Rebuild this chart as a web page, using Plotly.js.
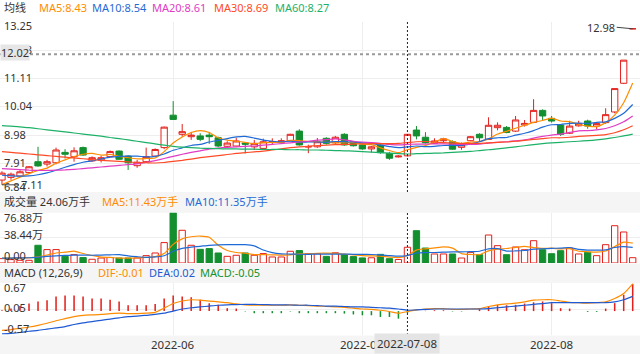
<!DOCTYPE html>
<html><head><meta charset="utf-8">
<script src="https://cdn.plot.ly/plotly-3.0.1.min.js"></script>
<style>html,body{margin:0;padding:0;background:#fff}#chart{width:640px;height:354px}</style>
</head><body><div id="chart"></div>
<script>
// ---------------- DATA ----------------
const dates = [
'2022-05-05','2022-05-06','2022-05-09','2022-05-10','2022-05-11','2022-05-12','2022-05-13','2022-05-16','2022-05-17','2022-05-18','2022-05-19','2022-05-20','2022-05-23','2022-05-24','2022-05-25','2022-05-26','2022-05-27','2022-05-30','2022-05-31',
'2022-06-01','2022-06-02','2022-06-06','2022-06-07','2022-06-08','2022-06-09','2022-06-10','2022-06-13','2022-06-14','2022-06-15','2022-06-16','2022-06-17','2022-06-20','2022-06-21','2022-06-22','2022-06-23','2022-06-24','2022-06-27','2022-06-28','2022-06-29','2022-06-30',
'2022-07-01','2022-07-04','2022-07-05','2022-07-06','2022-07-07','2022-07-08','2022-07-11','2022-07-12','2022-07-13','2022-07-14','2022-07-15','2022-07-18','2022-07-19','2022-07-20','2022-07-21','2022-07-22','2022-07-25','2022-07-26','2022-07-27','2022-07-28','2022-07-29',
'2022-08-01','2022-08-02','2022-08-03','2022-08-04','2022-08-05','2022-08-08','2022-08-09','2022-08-10','2022-08-11','2022-08-12'];

const open = [7.29,7.39,7.44,7.57,7.98,7.89,7.94,8.33,8.17,8.51,
8.01,8.04,8.17,8.38,8.19,7.83,7.98,8.19,8.51,9.73,
9.01,8.92,8.95,8.98,8.88,8.56,8.57,8.68,8.54,8.48,
8.72,8.71,8.77,9.13,8.53,8.54,8.86,8.69,9.01,8.73,
8.61,8.46,8.61,8.29,8.16,8.20,9.17,8.90,8.67,8.77,
8.73,8.52,8.77,9.01,8.82,9.26,9.27,9.13,9.36,9.46,
9.91,9.61,9.36,9.05,9.33,9.51,9.32,9.45,9.85,10.93,12.98];
const high = [7.62,7.57,7.66,7.82,8.54,8.05,8.51,8.45,8.52,8.55,
8.18,8.20,8.40,8.40,8.22,8.05,8.51,8.48,9.30,10.26,
9.40,9.10,9.05,9.10,8.92,8.75,8.88,8.72,8.80,8.85,
8.86,8.86,9.03,9.20,8.62,8.87,8.90,8.95,9.05,8.76,
8.63,8.57,8.64,8.35,8.22,9.01,9.32,9.09,8.86,8.88,
8.78,8.70,8.95,9.05,9.65,9.46,9.32,9.70,9.55,10.33,
9.95,9.70,9.40,9.52,9.52,9.56,9.46,9.99,10.73,11.80,12.98];
const low = [7.11,7.30,7.40,7.55,7.79,7.80,7.88,8.10,7.98,8.20,
7.98,7.95,8.15,8.05,7.67,7.75,7.95,8.15,8.45,9.55,
8.92,8.80,8.75,8.65,8.52,8.50,8.55,8.29,8.42,8.45,
8.63,8.69,8.75,8.58,8.30,8.50,8.62,8.64,8.58,8.55,
8.43,8.32,8.28,8.05,8.14,8.18,8.82,8.66,8.65,8.70,
8.43,8.43,8.75,8.76,8.80,9.16,9.05,9.10,9.30,9.43,
9.55,9.45,8.95,9.02,9.30,9.22,9.20,9.40,9.80,10.90,12.98];
const close = [7.55,7.51,7.60,7.79,7.82,7.98,8.42,8.26,8.39,8.23,
8.13,8.13,8.36,8.07,7.94,7.96,8.17,8.44,9.28,9.57,
9.11,8.98,8.82,8.92,8.57,8.68,8.76,8.64,8.67,8.73,
8.74,8.77,9.01,8.61,8.55,8.73,8.67,8.90,8.61,8.58,
8.46,8.54,8.32,8.11,8.19,9.01,8.95,8.69,8.76,8.84,
8.45,8.61,8.92,8.88,9.35,9.35,9.08,9.55,9.42,9.91,
9.70,9.51,9.01,9.32,9.42,9.32,9.42,9.75,10.73,11.80,12.98];

const ma5 = [7.12,7.26,7.40,7.53,7.65,7.74,7.92,8.05,8.17,8.26,
8.29,8.23,8.25,8.18,8.13,8.09,8.10,8.12,8.36,8.68,
8.91,9.08,9.15,9.08,8.88,8.79,8.75,8.71,8.66,8.70,
8.71,8.71,8.78,8.77,8.74,8.73,8.71,8.69,8.69,8.70,
8.64,8.62,8.50,8.40,8.32,8.43,8.52,8.59,8.72,8.85,
8.74,8.67,8.72,8.74,8.84,9.02,9.12,9.24,9.35,9.46,
9.53,9.62,9.51,9.49,9.39,9.32,9.30,9.45,9.73,10.20,10.94];
const ma10 = [7.47,7.45,7.44,7.45,7.49,7.56,7.66,7.77,7.87,7.96,
8.01,8.08,8.15,8.18,8.19,8.19,8.16,8.18,8.27,8.41,
8.50,8.59,8.63,8.72,8.78,8.85,8.91,8.93,8.87,8.79,
8.75,8.73,8.75,8.72,8.72,8.72,8.71,8.74,8.73,8.72,
8.69,8.67,8.60,8.55,8.51,8.54,8.57,8.55,8.56,8.59,
8.59,8.59,8.65,8.73,8.85,8.88,8.89,8.98,9.05,9.15,
9.28,9.37,9.38,9.42,9.43,9.42,9.46,9.48,9.61,9.80,10.13];
const ma20 = [7.72,7.70,7.68,7.66,7.65,7.65,7.66,7.67,7.69,7.72,
7.75,7.78,7.81,7.84,7.87,7.90,7.95,8.02,8.10,8.18,
8.26,8.33,8.39,8.45,8.49,8.52,8.54,8.56,8.57,8.60,
8.63,8.66,8.69,8.72,8.75,8.79,8.81,8.84,8.80,8.75,
8.72,8.70,8.67,8.63,8.61,8.63,8.64,8.64,8.65,8.65,
8.64,8.63,8.63,8.64,8.68,8.71,8.73,8.76,8.80,8.87,
8.93,8.98,9.02,9.08,9.14,9.15,9.18,9.23,9.33,9.48,9.70];
const ma30 = [8.36,8.33,8.30,8.27,8.24,8.21,8.18,8.15,8.12,8.09,
8.06,8.03,8.01,7.99,7.97,7.95,7.94,7.93,7.95,7.99,
8.03,8.08,8.13,8.17,8.21,8.25,8.29,8.32,8.35,8.38,
8.42,8.46,8.51,8.54,8.56,8.59,8.60,8.62,8.63,8.64,
8.65,8.66,8.66,8.66,8.67,8.70,8.73,8.74,8.72,8.70,
8.68,8.66,8.67,8.67,8.69,8.71,8.72,8.75,8.78,8.82,
8.85,8.88,8.88,8.90,8.93,8.95,8.97,9.00,9.07,9.18,9.33];
const ma60 = [9.34,9.32,9.29,9.26,9.22,9.18,9.14,9.10,9.06,9.02,
8.98,8.94,8.89,8.85,8.80,8.75,8.70,8.65,8.60,8.56,
8.53,8.51,8.49,8.48,8.47,8.46,8.46,8.45,8.45,8.44,
8.44,8.44,8.43,8.43,8.42,8.42,8.41,8.40,8.39,8.38,
8.36,8.34,8.32,8.30,8.28,8.27,8.28,8.29,8.30,8.31,
8.33,8.35,8.37,8.40,8.43,8.46,8.50,8.54,8.58,8.62,
8.66,8.69,8.71,8.73,8.75,8.77,8.80,8.84,8.89,8.95,9.02];

// volume in 万手
const volume = [6.7,5.2,4.1,4.1,27.1,20.5,20.5,10.2,12.8,8.3,
5.7,7.6,8.3,7.6,7.6,7.6,11.3,15.3,31.2,76.88,
50.0,27.1,20.9,22.0,15.3,10.2,11.8,15.3,11.8,14.4,
9.2,9.2,17.9,19.0,14.2,14.2,10.2,15.6,13.0,9.8,
7.75,8.0,13.2,6.6,5.3,24.06,49.4,22.9,13.8,13.8,
13.8,7.6,16.2,12.7,42.8,26.5,12.7,24.5,20.3,34.1,
20.3,14.2,18.8,22.9,13.8,16.2,11.2,28.0,57.0,47.4,8.1];
const volMa5 = [7.2,7.4,7.6,7.9,9.44,12.2,15.26,16.48,18.22,14.46,
11.5,8.92,8.54,7.5,7.36,7.74,8.48,9.88,14.6,28.46,
36.94,40.1,41.22,39.38,27.06,19.1,16.04,14.92,12.88,12.7,
12.5,11.98,12.5,13.94,13.9,14.9,15.1,14.64,13.44,12.56,
11.27,10.83,10.35,9.07,8.17,11.43,19.71,21.65,23.09,24.79,
22.74,14.38,13.04,12.82,18.62,21.16,22.18,23.84,25.36,23.62,
22.38,22.68,21.54,22.06,18.0,17.18,16.58,18.42,25.24,31.96,30.34];
const volMa10 = [7.5,7.6,7.8,8.0,9.0,10.0,11.0,11.6,12.0,11.95,
11.85,12.09,12.51,12.86,10.91,9.62,8.7,9.21,11.05,17.91,
22.34,24.29,25.55,26.99,27.76,28.02,28.07,28.07,26.13,19.88,
15.8,14.01,13.71,13.41,13.3,13.7,13.54,13.57,13.69,13.23,
13.09,12.97,12.5,11.26,10.37,11.35,15.27,16.0,16.08,16.48,
17.09,17.05,17.35,17.96,21.71,21.95,18.28,18.44,19.09,21.12,
21.77,22.43,22.69,23.71,20.81,19.78,19.63,19.98,23.65,24.98,23.76];

const dif = [-0.46,-0.44,-0.41,-0.38,-0.34,-0.29,-0.23,-0.18,-0.13,-0.10,
-0.09,-0.08,-0.06,-0.05,-0.06,-0.06,-0.05,-0.03,0.07,0.18,
0.24,0.27,0.26,0.24,0.22,0.20,0.17,0.15,0.14,0.14,
0.14,0.14,0.15,0.14,0.13,0.12,0.11,0.10,0.09,0.07,
0.05,0.04,0.02,-0.01,-0.05,-0.01,0.03,0.05,0.06,0.06,
0.04,0.04,0.05,0.06,0.11,0.15,0.17,0.19,0.22,0.26,
0.27,0.27,0.24,0.21,0.20,0.19,0.20,0.22,0.30,0.42,0.65];
const dea = [-0.54,-0.53,-0.51,-0.48,-0.46,-0.43,-0.40,-0.37,-0.32,-0.28,
-0.25,-0.22,-0.19,-0.16,-0.13,-0.12,-0.10,-0.08,-0.05,0.00,
0.05,0.08,0.10,0.12,0.14,0.15,0.155,0.16,0.16,0.155,
0.15,0.15,0.145,0.14,0.14,0.13,0.12,0.12,0.11,0.10,
0.10,0.09,0.08,0.07,0.05,0.02,0.03,0.04,0.05,0.05,
0.05,0.05,0.05,0.05,0.06,0.08,0.10,0.12,0.14,0.16,
0.18,0.20,0.20,0.20,0.20,0.20,0.20,0.20,0.22,0.27,0.35];
const macdHist = [0.02,0.06,0.12,0.18,0.23,0.26,0.35,0.37,0.37,0.35,
0.30,0.30,0.27,0.23,0.14,0.14,0.14,0.17,0.30,0.37,
0.35,0.33,0.27,0.19,0.15,0.07,0.06,-0.01,-0.05,-0.05,
-0.05,-0.05,-0.01,-0.05,-0.05,-0.05,-0.05,-0.05,-0.06,-0.08,
-0.10,-0.10,-0.14,-0.14,-0.18,-0.05,0.00,0.01,0.02,0.02,
-0.01,-0.01,0.00,0.06,0.10,0.15,0.14,0.15,0.18,0.21,
0.23,0.19,0.07,0.06,0.00,-0.02,-0.02,0.06,0.19,0.39,0.65];

// axis ticks / labels
const priceTicks = [6.84,7.91,8.98,10.04,11.11,12.18,13.25];
const priceTickText = ['6.84','7.91','8.98','10.04','11.11','12.18','13.25'];
const volTicks = [0,38.44,76.88];
const volTickText = ['0.00','38.44万','76.88万'];
const macdTicks = [-0.57,0.05,0.67];
const macdTickText = ['-0.57','0.05','0.67'];
const monthTicks = ['2022-06-01','2022-07-01','2022-08-01'];
const monthTickText = ['2022-06','2022-07','2022-08'];

// legend values at the crosshair
const maNames = ['MA5','MA10','MA20','MA30','MA60'];
const maLegendVals = [8.43,8.54,8.61,8.69,8.27];
const crossDate = '2022-07-08';
const crossPrice = 12.02;
const crossVolText = '24.06万手';
const volMaNames = ['MA5','MA10'];
const volMaLegendVals = [11.43,11.35];
const macdLegendNames = ['DIF','DEA','MACD'];
const macdLegendVals = [-0.01,0.02,-0.05];
const maxDate = '2022-08-12', maxHigh = 12.98;
const minDate = '2022-05-05', minLow = 7.11;

// ---------------- STYLE ----------------
const FONT = '"Noto Sans", "Noto Sans CJK SC", sans-serif';
const TXT = '#333333';
const RED = '#e3201b', GREEN = '#148f30';
const maColors = ['#ff8c00','#1f6bd6','#e03cc4','#ff4a26','#1db168'];
const volMaColors = ['#ff8c00','#1f6bd6'];
const macdColors = ['#ff8c00','#1f5ad2','#14922f'];
const GRID = '#eeeeee', BAND = '#f5f5f5';
const H = 354, W = 640;
const P = px => 1 - px / H;

const isUp = close.map((c, i) => c > open[i] || (c === open[i] && i > 0 && c > close[i - 1]));

// ---------------- TRACES ----------------
const traces = [];
[ma5, ma10, ma20, ma30, ma60].forEach((arr, k) => {
  traces.push({type:'scatter', mode:'lines', x:dates, y:arr, xaxis:'x', yaxis:'y',
    line:{color:maColors[k], width:1.2, shape:'spline', smoothing:0.6}, hoverinfo:'skip'});
});
traces.push({type:'candlestick', x:dates, open:open, high:high, low:low, close:close,
  xaxis:'x', yaxis:'y', whiskerwidth:0,
  increasing:{line:{color:RED, width:1}, fillcolor:'rgba(255,255,255,0)'},
  decreasing:{line:{color:GREEN, width:1}, fillcolor:GREEN}, hoverinfo:'skip'});

traces.push({type:'bar', x:dates, y:volume, xaxis:'x', yaxis:'y2', width:0.7,
  marker:{color:isUp.map(u => u ? 'rgba(255,255,255,0)' : GREEN),
          line:{color:isUp.map(u => u ? RED : GREEN), width:1}}, hoverinfo:'skip'});
[volMa5, volMa10].forEach((arr, k) => {
  traces.push({type:'scatter', mode:'lines', x:dates, y:arr, xaxis:'x', yaxis:'y2',
    line:{color:volMaColors[k], width:1.2, shape:'spline', smoothing:0.6}, hoverinfo:'skip'});
});

traces.push({type:'bar', x:dates, y:macdHist, xaxis:'x', yaxis:'y3', width:0.17,
  marker:{color:macdHist.map(v => v >= 0 ? RED : GREEN), line:{width:0}}, hoverinfo:'skip'});
traces.push({type:'scatter', mode:'lines', x:dates, y:dif, xaxis:'x', yaxis:'y3',
  line:{color:macdColors[0], width:1.2, shape:'spline', smoothing:0.6}, hoverinfo:'skip'});
traces.push({type:'scatter', mode:'lines', x:dates, y:dea, xaxis:'x', yaxis:'y3',
  line:{color:macdColors[1], width:1.2, shape:'spline', smoothing:0.6}, hoverinfo:'skip'});

// ---------------- ANNOTATIONS ----------------
const ann = [];
function txt(text, xpx, ypx, color, extra) {
  ann.push(Object.assign({text:text, x:xpx / W, y:P(ypx), xref:'paper', yref:'paper',
    xanchor:'left', yanchor:'middle', showarrow:false,
    font:{family:FONT, size:11, color:color}}, extra || {}));
}
// header rows
const topX = [2, 37, 90, 150, 212, 273];
txt('均线', topX[0], 7.5, TXT);
maNames.forEach((n, k) => txt(n + ':' + maLegendVals[k].toFixed(2), topX[k + 1], 7.5, maColors[k]));

const volX = [2, 100, 183];
txt('成交量 ' + crossVolText, volX[0], 201, TXT);
volMaNames.forEach((n, k) => txt(n + ':' + volMaLegendVals[k].toFixed(2) + '万手', volX[k + 1], 201, volMaColors[k]));

const macdX = [2, 96, 147, 198];
txt('MACD (12,26,9)', macdX[0], 272.5, TXT);
macdLegendNames.forEach((n, k) => txt(n + ':' + macdLegendVals[k].toFixed(2), macdX[k + 1], 272.5, macdColors[k]));

// y labels
function yLabels(ticks, texts, yref, shifts) {
  ticks.forEach((t, k) => ann.push({text:texts[k], x:2 / W, xref:'paper', xanchor:'left',
    y:t, yref:yref, yanchor:'middle', yshift:shifts[k], showarrow:false,
    font:{family:FONT, size:11, color:TXT}}));
}
yLabels(priceTicks, priceTickText, 'y', [5.5, 1, 1, 1, 1, 1, -4]);
yLabels(volTicks, volTickText, 'y2', [7.5, 3.5, -4.3]);
yLabels(macdTicks, macdTickText, 'y3', [7, 1.4, -4.8]);

// x labels
monthTicks.forEach((m, k) => ann.push({text:monthTickText[k], x:m, xref:'x', y:P(344), yref:'paper',
  xanchor:'center', yanchor:'middle', showarrow:false, font:{family:FONT, size:11.5, color:TXT}}));

// max / min markers
ann.push({text:maxHigh.toFixed(2), x:maxDate, xref:'x', y:maxHigh, yref:'y',
  showarrow:true, arrowhead:0, arrowwidth:1, arrowcolor:'#444', ax:-16, ay:-1.5,
  xanchor:'right', yanchor:'middle', font:{family:FONT, size:11, color:TXT}});
ann.push({text:minLow.toFixed(2), x:minDate, xref:'x', y:minLow, yref:'y',
  showarrow:true, arrowhead:0, arrowwidth:1, arrowcolor:'#444', ax:17, ay:0,
  xanchor:'left', yanchor:'middle', font:{family:FONT, size:11, color:TXT}});

// crosshair labels
ann.push({text:crossPrice.toFixed(2), x:0, xref:'paper', xanchor:'left', y:crossPrice, yref:'y',
  yanchor:'middle', yshift:2, showarrow:false, bgcolor:'#e6e6e6', borderpad:0,
  font:{family:FONT, size:11, color:TXT}});
ann.push({text:crossDate, x:crossDate, xref:'x', xanchor:'center', y:P(343.7), yref:'paper',
  yanchor:'middle', showarrow:false, bgcolor:'#e4e4e4', borderpad:2,
  font:{family:FONT, size:11.5, color:TXT}});

// ---------------- SHAPES ----------------
const shapes = [];
[[192, 212.7], [263.5, 283], [335.5, 354]].forEach(b => shapes.push({type:'rect', xref:'paper', yref:'paper',
  x0:0, x1:1, y0:P(b[1]), y1:P(b[0]), fillcolor:BAND, line:{width:0}, layer:'below'}));
['y domain', 'y2 domain', 'y3 domain'].forEach(r => shapes.push({type:'line', xref:'x', yref:r,
  x0:crossDate, x1:crossDate, y0:0, y1:1, line:{color:'#222', width:1, dash:'2px,2px'}}));
shapes.push({type:'line', xref:'paper', yref:'y', x0:0, x1:1, y0:crossPrice, y1:crossPrice,
  line:{color:'#9a9a9a', width:2, dash:'dot'}});

// ---------------- LAYOUT ----------------
const yCommon = {showticklabels:false, showgrid:true, gridcolor:GRID, gridwidth:1, zeroline:false,
  showline:false, ticks:'', fixedrange:true};
const layout = {
  width:W, height:H, margin:{l:0, r:0, t:0, b:0}, paper_bgcolor:'#ffffff', plot_bgcolor:'rgba(0,0,0,0)',
  showlegend:false, hovermode:false, dragmode:false, boxgap:0.3, boxgroupgap:0,
  xaxis:{type:'category', categoryorder:'array', categoryarray:dates, range:[-0.22, 70.81],
    anchor:'y3', tickvals:monthTicks, showticklabels:false, showgrid:true, gridcolor:GRID,
    zeroline:false, showline:false, ticks:'', rangeslider:{visible:false}, fixedrange:true},
  yaxis:Object.assign({domain:[P(192), P(21.6)], range:[6.84, 13.25], tickvals:priceTicks}, yCommon),
  yaxis2:Object.assign({domain:[P(263), P(212.7)], range:[0, 76.88], tickvals:volTicks}, yCommon),
  yaxis3:Object.assign({domain:[P(335), P(283)], range:[-0.57, 0.67], tickvals:macdTicks}, yCommon),
  annotations:ann, shapes:shapes
};
Plotly.newPlot('chart', traces, layout, {staticPlot:true, displayModeBar:false});
</script>
</body></html>
